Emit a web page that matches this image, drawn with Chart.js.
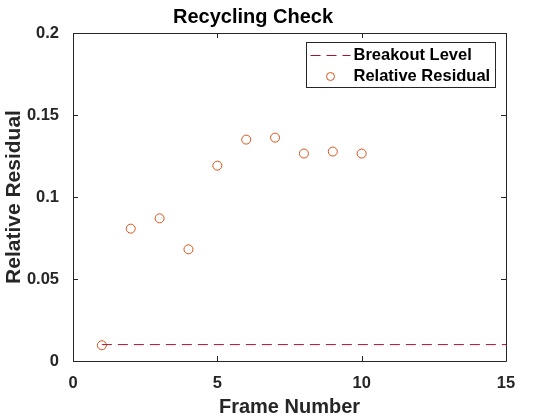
<!DOCTYPE html>
<html>
<head>
<meta charset="utf-8">
<script src="https://cdn.jsdelivr.net/npm/chart.js@4"></script>
<style>
  html, body { margin: 0; padding: 0; background: #fff; }
  #wrap { width: 560px; height: 420px; }
</style>
</head>
<body>
<div id="wrap"><canvas id="myChart"></canvas></div>
<script>
const frames = [1, 2, 3, 4, 5, 6, 7, 8, 9, 10];
const residuals = [0.0096, 0.0807, 0.087, 0.0681, 0.1191, 0.135, 0.1362, 0.1265, 0.1277, 0.1265];
const breakoutX = [1, 15];
const breakoutY = [0.01, 0.01];
const xTicks = [0, 5, 10, 15];
const yTicks = [0, 0.05, 0.1, 0.15, 0.2];

const axisColor = "#262626";
const fontFam = "'Liberation Sans', Arial, sans-serif";

// MATLAB style box with inward ticks on all four sides
const boxTicks = {
  id: "boxTicks",
  afterDatasetsDraw(chart) {
    const c = chart.ctx;
    const a = chart.chartArea;
    const xs = chart.scales.x;
    const ys = chart.scales.y;
    const len = 5;
    c.save();
    c.strokeStyle = axisColor;
    c.lineWidth = 1;
    c.beginPath();
    c.rect(Math.round(a.left) + 0.5, Math.round(a.top) + 0.5,
      Math.round(a.right - a.left), Math.round(a.bottom - a.top));
    xTicks.forEach((v) => {
      const px = Math.round(xs.getPixelForValue(v)) + 0.5;
      c.moveTo(px, a.bottom);
      c.lineTo(px, a.bottom - len);
      c.moveTo(px, a.top);
      c.lineTo(px, a.top + len);
    });
    yTicks.forEach((v) => {
      const py = Math.round(ys.getPixelForValue(v)) + 0.5;
      c.moveTo(a.left, py);
      c.lineTo(a.left + len, py);
      c.moveTo(a.right, py);
      c.lineTo(a.right - len, py);
    });
    c.stroke();
    c.restore();
  },
};

// legend box in the top right corner of the axes
const boxLegend = {
  id: "boxLegend",
  afterDraw(chart) {
    const c = chart.ctx;
    const a = chart.chartArea;
    const ds = chart.data.datasets;
    const w = 189, h = 45;
    const left = Math.round(a.right - 11 - w) + 0.5;
    const top = Math.round(a.top + 9) + 0.5;
    c.save();
    c.fillStyle = "#fff";
    c.fillRect(left, top, w, h);
    c.strokeStyle = axisColor;
    c.lineWidth = 1;
    c.strokeRect(left, top, w, h);

    const y1 = top + 13;
    const y2 = top + 34;
    c.strokeStyle = ds[0].borderColor;
    c.setLineDash(ds[0].borderDash);
    c.beginPath();
    c.moveTo(left + 4, y1);
    c.lineTo(left + 44, y1);
    c.stroke();
    c.setLineDash([]);
    c.strokeStyle = ds[1].pointBorderColor;
    c.beginPath();
    c.arc(left + 24, y2, 4, 0, Math.PI * 2);
    c.stroke();

    c.fillStyle = "#000";
    c.font = "bold 16.5px " + fontFam;
    c.textBaseline = "middle";
    c.textAlign = "left";
    c.fillText(ds[0].label, left + 47, y1);
    c.fillText(ds[1].label, left + 47, y2);
    c.restore();
  },
};

new Chart(document.getElementById("myChart"), {
  type: "scatter",
  data: {
    datasets: [
      {
        label: "Breakout Level",
        type: "line",
        data: breakoutX.map((x, i) => ({ x: x, y: breakoutY[i] })),
        borderColor: "#A2142F",
        borderWidth: 1,
        borderDash: [10, 6],
        pointRadius: 0,
        fill: false,
      },
      {
        label: "Relative Residual",
        data: frames.map((f, i) => ({ x: f, y: residuals[i] })),
        pointStyle: "circle",
        pointRadius: 4.5,
        pointBorderWidth: 1,
        pointBorderColor: "#D95319",
        pointBackgroundColor: "rgba(0,0,0,0)",
      },
    ],
  },
  options: {
    responsive: true,
    maintainAspectRatio: false,
    animation: false,
    layout: { padding: { left: 0, right: 54, top: 0, bottom: 0 } },
    plugins: {
      legend: { display: false },
      tooltip: { enabled: false },
      title: {
        display: true,
        text: "Recycling Check",
        color: "#000",
        font: { family: fontFam, size: 20, weight: "bold" },
        padding: { top: 5, bottom: 4 },
      },
    },
    scales: {
      x: {
        type: "linear",
        min: 0,
        max: 15,
        afterFit: (s) => { s.height = 59; },
        afterBuildTicks: (s) => { s.ticks = xTicks.map((v) => ({ value: v })); },
        grid: { display: false },
        border: { display: false },
        ticks: {
          color: axisColor,
          padding: 5,
          maxRotation: 0,
          font: { family: fontFam, size: 16.5, weight: "bold" },
          callback: (v) => String(v),
        },
        title: {
          display: true,
          text: "Frame Number",
          color: axisColor,
          padding: { top: 0, bottom: 1 },
          font: { family: fontFam, size: 20, weight: "bold" },
        },
      },
      y: {
        min: 0,
        max: 0.2,
        afterFit: (s) => { s.width = 73; },
        afterBuildTicks: (s) => { s.ticks = yTicks.map((v) => ({ value: v })); },
        grid: { display: false },
        border: { display: false },
        ticks: {
          color: axisColor,
          padding: 6,
          font: { family: fontFam, size: 16.5, weight: "bold" },
          callback: (v) => String(+v.toFixed(2)),
        },
        title: {
          display: true,
          text: "Relative Residual",
          color: axisColor,
          padding: { top: 2, bottom: 0 },
          font: { family: fontFam, size: 21, weight: "bold" },
        },
      },
    },
  },
  plugins: [boxTicks, boxLegend],
});
</script>
</body>
</html>
